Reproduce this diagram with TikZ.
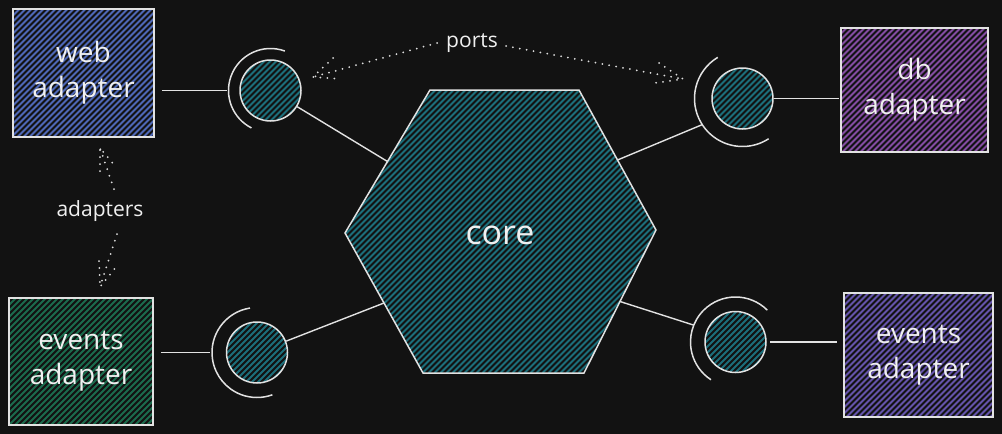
\documentclass[tikz,border=0pt]{standalone}
\usepackage{fontspec}
\setmainfont{Open Sans}
\usetikzlibrary{calc}
\definecolor{bgc}{HTML}{121212}
\definecolor{strokec}{HTML}{E2E2E2}
\definecolor{textc}{HTML}{F0F0F0}
\definecolor{dotc}{HTML}{DDDDDD}
\definecolor{webc}{HTML}{4E67B6}
\definecolor{tealc}{HTML}{1C6E7A}
\definecolor{greenc}{HTML}{1B6B4D}
\definecolor{dbc}{HTML}{834CA0}
\definecolor{evc}{HTML}{6453AA}
\tikzset{
  hatch/.style={path picture={%
    \foreach \k in {-450,-444,...,200}{%
      \draw[draw=#1,line width=1.9pt] ([xshift=\k pt]path picture bounding box.south) -- ++(330,-330);}}},
  edge/.style={draw=strokec, line width=1.5pt},
  box/.style={edge, rectangle, inner sep=0pt, align=center,
    font=\fontsize{28}{35}\selectfont, text=textc},
  port/.style={edge, circle, minimum size=61pt, inner sep=0pt, hatch=tealc},
  sock/.style={draw=strokec, line width=1.5pt},
  link/.style={draw=strokec, line width=1.4pt},
  dots/.style={draw=dotc, line width=2pt, line cap=round, dash pattern=on 0pt off 7pt},
  lbl/.style={text=textc, font=\fontsize{21}{24}\selectfont, inner sep=1pt},
}
\begin{document}
\begin{tikzpicture}[x=1pt,y=-1pt]
\fill[bgc] (0,0) rectangle (1002,434);
\useasboundingbox (0,0) rectangle (1002,434);

% adapter boxes
\node[box, hatch=webc, minimum width=141pt, minimum height=128pt] (web) at (83.5,73) {web\\adapter};
\node[box, hatch=dbc, minimum width=147pt, minimum height=124pt] (db) at (914.5,90) {db\\adapter};
\node[box, hatch=greenc, minimum width=144pt, minimum height=127pt] (evl) at (81,361.5) {events\\adapter};
\node[box, hatch=evc, minimum width=149pt, minimum height=124pt] (evr) at (918.5,355) {events\\adapter};

% core hexagon
\coordinate (h1) at (430,90);
\coordinate (h2) at (579,90);
\coordinate (h3) at (656,230);
\coordinate (h4) at (584,373);
\coordinate (h5) at (423,373);
\coordinate (h6) at (345,233);
\path[edge, hatch=tealc] (h1) -- (h2) -- (h3) -- (h4) -- (h5) -- (h6) -- cycle;
\node[text=textc, font=\fontsize{34}{40}\selectfont] (core) at (500,235) {core};
\coordinate (cUL) at ($(h6)!0.5!(h1)$);
\coordinate (cUR) at ($(h2)!0.5!(h3)$);
\coordinate (cLR) at ($(h3)!0.5!(h4)$);
\coordinate (cLL) at ($(h5)!0.5!(h6)$);

% ports
\node[port] (wp) at (270.5,90.5) {};
\node[port] (dp) at (742.5,98.5) {};
\node[port] (ep) at (257,352.5) {};
\node[port] (rp) at (735.5,342) {};

% sockets
\draw[sock] ($(wp.center)+(70:42pt)$) arc[start angle=70, end angle=243, radius=42pt];
\draw[sock] ($(dp.center)+(121:48pt)$) arc[start angle=121, end angle=303, radius=48pt];
\draw[sock] ($(ep.center)+(99:45pt)$) arc[start angle=99, end angle=290, radius=45pt];
\draw[sock] ($(rp.center)+(45:45pt)$) arc[start angle=45, end angle=237, radius=45pt];
\coordinate (wpS) at ($(wp.center)+(180:42pt)$);
\coordinate (dpS) at ($(dp.center)+(213:48pt)$);
\coordinate (epS) at ($(ep.center)+(180:45pt)$);
\coordinate (rpS) at ($(rp.center)+(158:45pt)$);

% connectors
\draw[link, shorten <=7pt, shorten >=2pt] (web.east |- wpS) -- (wpS);
\draw[link] (wp) -- (cUL);
\draw[link] (cUR) -- (dpS);
\draw[link, shorten >=1pt] (dp) -- (db.west |- dp);
\draw[link, shorten <=7pt, shorten >=2pt] (evl.east |- epS) -- (epS);
\draw[link] (ep) -- (cLL);
\draw[link] (cLR) -- (rpS);
\draw[link, shorten <=3pt, shorten >=6pt] (rp) -- (evr.west |- rp);

% labels
\node[lbl] (ports) at (472,43) {ports};
\node[lbl] (adl) at (100,211) {adapters};

% dotted arrows: ports
\coordinate (pLs) at (437,43);
\coordinate (pLt) at (313,77);
\coordinate (pLa) at (333,58);
\coordinate (pLb) at (341,79);
\coordinate (pRs) at (506,46);
\coordinate (pRt) at (683,79);
\coordinate (pRa) at (659,63);
\coordinate (pRb) at (655,83);
\draw[dots] (pLs) -- (pLt);
\draw[dots] (pLa) -- (pLt) -- (pLb);
\draw[dots] (pRs) -- (pRt);
\draw[dots] (pRa) -- (pRt) -- (pRb);

% dotted arrows: adapters
\coordinate (aUs) at (114,189);
\coordinate (aUt) at (100,148);
\coordinate (aUa) at (100,171);
\coordinate (aUb) at (116,167);
\coordinate (aDs) at (117,234);
\coordinate (aDt) at (100,287);
\coordinate (aDa) at (99,261);
\coordinate (aDb) at (116,267);
\draw[dots] (aUs) -- (aUt);
\draw[dots] (aUa) -- (aUt) -- (aUb);
\draw[dots] (aDs) -- (aDt);
\draw[dots] (aDa) -- (aDt) -- (aDb);
\end{tikzpicture}
\end{document}
